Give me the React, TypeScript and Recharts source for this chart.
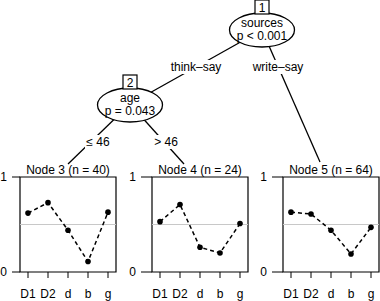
import React from "react";
import { LineChart, Line, XAxis, YAxis, ReferenceLine, ReferenceArea } from "recharts";

// profile categories shown on each terminal node
const categories = ["D1", "D2", "d", "b", "g"];

// proportions per terminal node
const node3Values = [0.62, 0.73, 0.44, 0.11, 0.63];
const node4Values = [0.53, 0.71, 0.26, 0.2, 0.51];
const node5Values = [0.63, 0.61, 0.44, 0.19, 0.47];

const nodeIds = [3, 4, 5];
const nodeSizes = [40, 24, 64];
const yTicks = [0, 1];

const FONT = "'Liberation Sans', Arial, Helvetica, sans-serif";

interface PanelProps {
  values: number[];
  boxLeft: number;
  axisWidth: number;
  tickLen: number;
}

function ProfilePanel({ values, boxLeft, axisWidth, tickLen }: PanelProps) {
  const data = categories.map((c, i) => ({ x: i + 1, label: c, value: values[i] }));
  return (
    <div style={{ position: "absolute", left: boxLeft - axisWidth, top: 160 }}>
      <LineChart
        width={axisWidth + 98}
        height={141}
        data={data}
        margin={{ top: 17, right: 2, bottom: 0, left: 0 }}
      >
        <XAxis
          type="number"
          dataKey="x"
          domain={[0.6, 5.4]}
          ticks={[1, 2, 3, 4, 5]}
          tickFormatter={(v: number) => categories[v - 1]}
          interval={0}
          axisLine={false}
          tickSize={6}
          tickMargin={11}
          height={29}
          stroke="#000"
          tick={{ fill: "#000", fontSize: 12 }}
          allowDataOverflow
        />
        <YAxis
          type="number"
          domain={[0, 1]}
          ticks={yTicks}
          interval={0}
          width={axisWidth}
          axisLine={false}
          tickSize={tickLen}
          tickMargin={5}
          stroke="#000"
          tick={{ fill: "#000", fontSize: 12 }}
        />
        <ReferenceLine y={0.5} stroke="#c8c8c8" strokeWidth={1.2} />
        <ReferenceArea
          x1={0.6}
          x2={5.4}
          y1={0}
          y2={1}
          fill="none"
          fillOpacity={0}
          stroke="#000"
          strokeWidth={1.2}
        />
        <Line
          dataKey="value"
          stroke="#000"
          strokeWidth={1.5}
          strokeDasharray="4 3"
          dot={{ r: 2.8, fill: "#000", strokeWidth: 0 }}
          isAnimationActive={false}
        />
      </LineChart>
    </div>
  );
}

function EdgeLabel({ x, y, text, w }: { x: number; y: number; text: string; w: number }) {
  return (
    <g>
      <rect x={x - w / 2} y={y - 7} width={w} height={14} fill="#fff" />
      <text x={x} y={y + 4} textAnchor="middle" fontSize={12}>
        {text}
      </text>
    </g>
  );
}

function InnerNode({ x, y, id, name, p }: { x: number; y: number; id: number; name: string; p: string }) {
  return (
    <g>
      <ellipse cx={x} cy={y} rx={32.5} ry={17} fill="#fff" stroke="#000" strokeWidth={1.3} />
      <rect x={x - 7} y={y - 30} width={14} height={14} fill="#fff" stroke="#000" strokeWidth={1.2} />
      <text x={x} y={y - 18} textAnchor="middle" fontSize={12}>
        {id}
      </text>
      <text x={x} y={y - 3} textAnchor="middle" fontSize={12}>
        {name}
      </text>
      <text x={x} y={y + 10} textAnchor="middle" fontSize={12}>
        {p}
      </text>
    </g>
  );
}

export default function App() {
  const boxLefts = [20, 152, 283];
  const axisWidths = [20, 24, 24];
  const tickLens = [8, 11, 11];
  const allValues = [node3Values, node4Values, node5Values];
  const lineProps = { stroke: "#000", strokeWidth: 1.3 };
  return (
    <div style={{ position: "absolute", left: 0, top: 0, width: 380, height: 301, fontFamily: FONT, background: "#fff" }}>
      <svg width={380} height={301} style={{ position: "absolute", left: 0, top: 0 }}>
        {/* edges */}
        <line x1={262} y1={30} x2={130} y2={104} {...lineProps} />
        <line x1={262} y1={30} x2={320} y2={162} {...lineProps} />
        <line x1={130} y1={104} x2={68} y2={164} {...lineProps} />
        <line x1={130} y1={104} x2={184} y2={164} {...lineProps} />
        <InnerNode x={262} y={30} id={1} name="sources" p="p < 0.001" />
        <InnerNode x={130} y={105} id={2} name="age" p="p = 0.043" />
        <EdgeLabel x={196} y={67} text="think–say" w={52} />
        <EdgeLabel x={278} y={67} text="write–say" w={52} />
        <EdgeLabel x={98} y={142} text="≤ 46" w={26} />
        <EdgeLabel x={166} y={142} text="> 46" w={26} />
        {nodeIds.map((id, i) => (
          <text key={id} x={boxLefts[i] + 48} y={174} textAnchor="middle" fontSize={12}>
            {`Node ${id} (n = ${nodeSizes[i]})`}
          </text>
        ))}
      </svg>
      {allValues.map((vals, i) => (
        <ProfilePanel
          key={i}
          values={vals}
          boxLeft={boxLefts[i]}
          axisWidth={axisWidths[i]}
          tickLen={tickLens[i]}
        />
      ))}
    </div>
  );
}
